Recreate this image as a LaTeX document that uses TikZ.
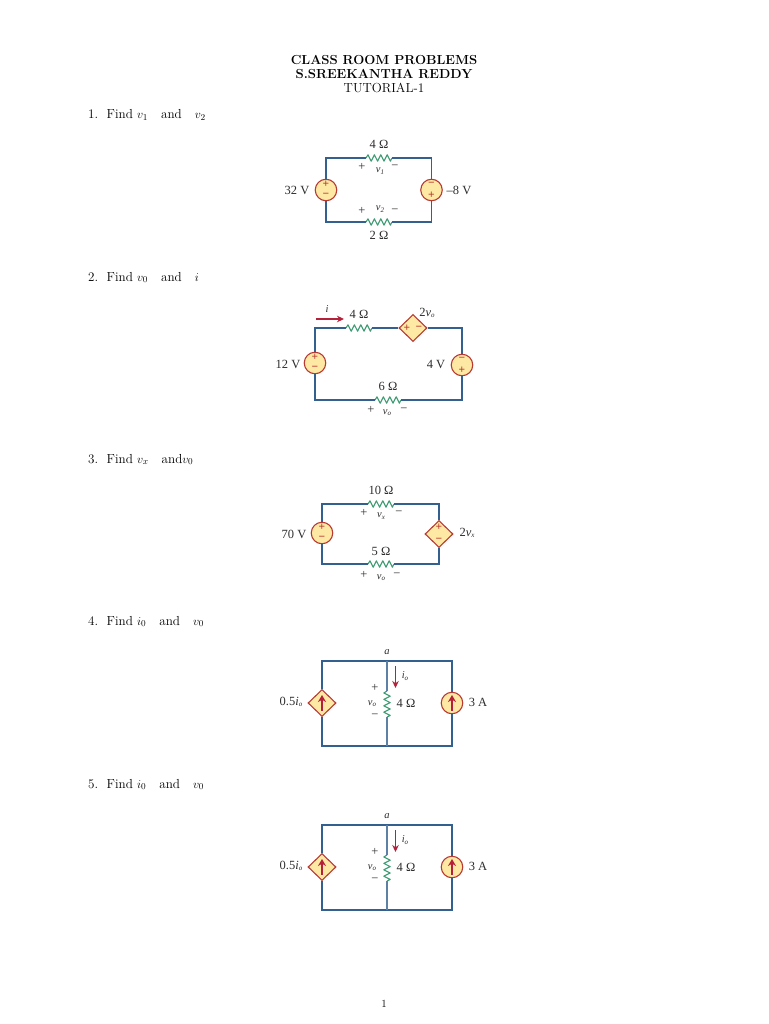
\documentclass[tikz,border=0pt]{standalone}
\usepackage{fontspec}
\usetikzlibrary{arrows.meta,shapes.geometric}
\newfontfamily\figfont{Liberation Serif}
\definecolor{wirec}{HTML}{34608F}
\definecolor{resc}{HTML}{3E9A72}
\definecolor{srcfill}{HTML}{FDE9A4}
\definecolor{srcline}{HTML}{B93A32}
\definecolor{arrc}{HTML}{B5203A}
\definecolor{figtext}{HTML}{2E2E2E}
\tikzset{
  wire/.style={draw=wirec,line width=1.1pt},
  midwire/.style={draw=wirec!80!white,line width=1.7pt},
  res/.style={draw=resc,line width=1.1pt,line join=round},
  srccirc/.style={circle,draw=srcline,fill=srcfill,line width=1.1pt,minimum size=21.5pt,inner sep=0pt},
  srcdiam/.style={diamond,draw=srcline,fill=srcfill,line width=1.1pt,minimum width=28pt,minimum height=27pt,inner sep=0pt},
  sign/.style={text=srcline,font=\figfont\bfseries\fontsize{11.5}{11.5}\selectfont,inner sep=0pt},
  lab/.style={text=figtext,font=\figfont\fontsize{12.5}{14}\selectfont,inner sep=0pt},
  small/.style={text=figtext,font=\figfont\fontsize{10.5}{12}\selectfont,inner sep=0pt},
  pm/.style={text=figtext,font=\figfont\fontsize{12.5}{12}\selectfont,inner sep=0pt},
  bodytext/.style={text=black,font=\fontsize{13.1}{15}\selectfont,inner sep=0pt},
  head/.style={bodytext,anchor=center},
  ques/.style={bodytext,anchor=base west},
  redarrow/.style={draw=arrc,line width=1.5pt,-{Stealth[length=7pt,width=6.5pt]}},
  innerarrow/.style={draw=arrc,line width=1.8pt,-{Stealth[length=7pt,width=8pt]}}
}
\newcommand{\hres}[3]{% name, x, y
  \coordinate (#1a) at (#2,#3);
  \coordinate (#1b) at (#2+26,#3);
  \draw[res] (#1a) -- ++(2,-3.2) -- ++(3.2,6.4) -- ++(3.2,-6.4) -- ++(3.2,6.4) -- ++(3.2,-6.4) -- ++(3.2,6.4) -- ++(3.2,-6.4) -- ++(3.2,6.4) -- (#1b);
}
\newcommand{\vres}[3]{% name, x, y
  \coordinate (#1a) at (#2,#3);
  \coordinate (#1b) at (#2,#3+26);
  \draw[res] (#1a) -- ++(-3.2,2) -- ++(6.4,3.2) -- ++(-6.4,3.2) -- ++(6.4,3.2) -- ++(-6.4,3.2) -- ++(6.4,3.2) -- ++(-6.4,3.2) -- ++(6.4,3.2) -- (#1b);
}
\newcommand{\vsub}[2]{\textit{#1}\raisebox{-0.25ex}{\scriptsize\textit{#2}}}
\newcommand{\circfour}[2]{%
  \begin{scope}[shift={(0,#2)}]
  \node[srcdiam] (#1d) at (322,703) {};
  \node[srccirc] (#1s) at (452,703) {};
  \draw[innerarrow] (322,711) -- (322,695);
  \draw[innerarrow] (452,711) -- (452,695);
  \coordinate (#1t) at (387,661);
  \coordinate (#1u) at (387,746);
  \vres{#1r}{387}{691}
  \draw[wire] (#1d) |- (#1t) -| (#1s);
  \draw[wire] (#1d) |- (#1u) -| (#1s);
  \draw[midwire] (#1t) -- (#1ra);
  \draw[midwire] (#1rb) -- (#1u);
  \coordinate (#1ia) at (395.5,666);
  \coordinate (#1ib) at (395.5,688);
  \draw[redarrow] (#1ia) -- (#1ib);
  \node[small] (#1la) at (387,652) {\textit{a}};
  \node[small] (#1li) at (405,676) {\vsub{i}{o}};
  \node[pm] (#1lp) at (375,688) {+};
  \node[small] (#1lv) at (372,704) {\vsub{v}{o}};
  \node[pm] (#1lm) at (375,716) {−};
  \node[lab] (#1lr) at (406,703) {4 Ω};
  \node[lab] (#1lg) at (291,702) {0.5\vsub{i}{o}};
  \node[lab] (#1lc) at (478,702) {3 A};
  \end{scope}
}
\begin{document}
\begin{tikzpicture}[x=1pt,y=-1pt]
\useasboundingbox (0,0) rectangle (768,1024);
\fill[white] (0,0) rectangle (768,1024);

% headings
\node[head,font=\fontsize{13.1}{15}\selectfont\bfseries] (h1) at (384,60) {CLASS ROOM PROBLEMS};
\node[head,font=\fontsize{13.1}{15}\selectfont\bfseries] (h2) at (384,74) {S.SREEKANTHA REDDY};
\node[head] (h3) at (384,88) {TUTORIAL-1};
\node[ques] (q1) at (88,119) {1.\ \ Find $v_1$\quad and\quad $v_2$};
\node[ques] (q2) at (88,281) {2.\ \ Find $v_0$\quad and\quad $i$};
\node[ques] (q3) at (88,463) {3.\ \ Find $v_x$\quad and$v_0$};
\node[ques] (q4) at (88,625) {4.\ \ Find $i_0$\quad and\quad $v_0$};
\node[ques] (q5) at (88,788) {5.\ \ Find $i_0$\quad and\quad $v_0$};
\node[head,font=\fontsize{11}{12}\selectfont] (pg) at (384,1004) {1};

% circuit 1
\node[srccirc] (as1) at (326,190) {};
\node[srccirc] (as2) at (431.5,190) {};
\node[sign] (asp1) at (326,184.5) {+};
\node[sign] (asm1) at (326,195.5) {−};
\node[sign] (asm2) at (431.5,184.5) {−};
\node[sign] (asp2) at (431.5,195.5) {+};
\hres{ar1}{366}{158}
\hres{ar2}{366}{222}
\draw[wire] (as1) |- (ar1a);
\draw[wire] (ar1b) -| (as2);
\draw[wire] (as1) |- (ar2a);
\draw[wire] (ar2b) -| (as2);
\node[lab] (al1) at (379,144) {4 Ω};
\node[pm] (al2) at (362,167) {+};
\node[small] (al3) at (380,171) {\vsub{v}{1}};
\node[pm] (al4) at (395,167) {−};
\node[lab] (al5) at (297,190) {32 V};
\node[lab] (al6) at (459,190) {–8 V};
\node[pm] (al7) at (362,211) {+};
\node[small] (al8) at (380,209) {\vsub{v}{2}};
\node[pm] (al9) at (395,211) {−};
\node[lab] (al10) at (379,235) {2 Ω};

% circuit 2
\node[srccirc] (bs1) at (315,363) {};
\node[srccirc] (bs2) at (462,365) {};
\node[srcdiam] (bd) at (413,328) {};
\node[sign] (bsp1) at (315,357.5) {+};
\node[sign] (bsm1) at (315,368.5) {−};
\node[sign] (bsm2) at (462,359.5) {−};
\node[sign] (bsp2) at (462,370.5) {+};
\node[sign] (bdp) at (407,328) {+};
\node[sign] (bdm) at (419,328) {−};
\hres{br1}{346}{328}
\hres{br2}{375}{400}
\draw[wire] (bs1) |- (br1a);
\draw[wire] (br1b) -- (bd);
\draw[wire] (bd) -| (bs2);
\draw[wire] (bs1) |- (br2a);
\draw[wire] (br2b) -| (bs2);
\coordinate (bia) at (316,319);
\coordinate (bib) at (344,319);
\draw[redarrow] (bia) -- (bib);
\node[small] (bl1) at (327,309) {\textit{i}};
\node[lab] (bl2) at (359,314) {4 Ω};
\node[lab] (bl3) at (427,313) {2\vsub{v}{o}};
\node[lab] (bl4) at (288,364) {12 V};
\node[lab] (bl5) at (436,364) {4 V};
\node[lab] (bl6) at (388,386) {6 Ω};
\node[pm] (bl7) at (371,410) {+};
\node[small] (bl8) at (387,413) {\vsub{v}{o}};
\node[pm] (bl9) at (404,410) {−};

% circuit 3
\node[srccirc] (cs1) at (322,533) {};
\node[srcdiam] (cd) at (439,534) {};
\node[sign] (csp1) at (322,527.5) {+};
\node[sign] (csm1) at (322,538.5) {−};
\node[sign] (cdp) at (439,527.5) {+};
\node[sign] (cdm) at (439,540.5) {−};
\hres{cr1}{368}{504}
\hres{cr2}{368}{564}
\draw[wire] (cs1) |- (cr1a);
\draw[wire] (cr1b) -| (cd);
\draw[wire] (cs1) |- (cr2a);
\draw[wire] (cr2b) -| (cd);
\node[lab] (cl1) at (381,490) {10 Ω};
\node[pm] (cl2) at (364,513) {+};
\node[small] (cl3) at (381,516) {\vsub{v}{x}};
\node[pm] (cl4) at (399,513) {−};
\node[lab] (cl5) at (294,534) {70 V};
\node[lab] (cl6) at (467,533) {2\vsub{v}{x}};
\node[lab] (cl7) at (381,551) {5 Ω};
\node[pm] (cl8) at (364,575) {+};
\node[small] (cl9) at (381,578) {\vsub{v}{o}};
\node[pm] (cl10) at (397,575) {−};

% circuits 4 and 5
\circfour{d}{0}
\circfour{e}{164}
\end{tikzpicture}
\end{document}
